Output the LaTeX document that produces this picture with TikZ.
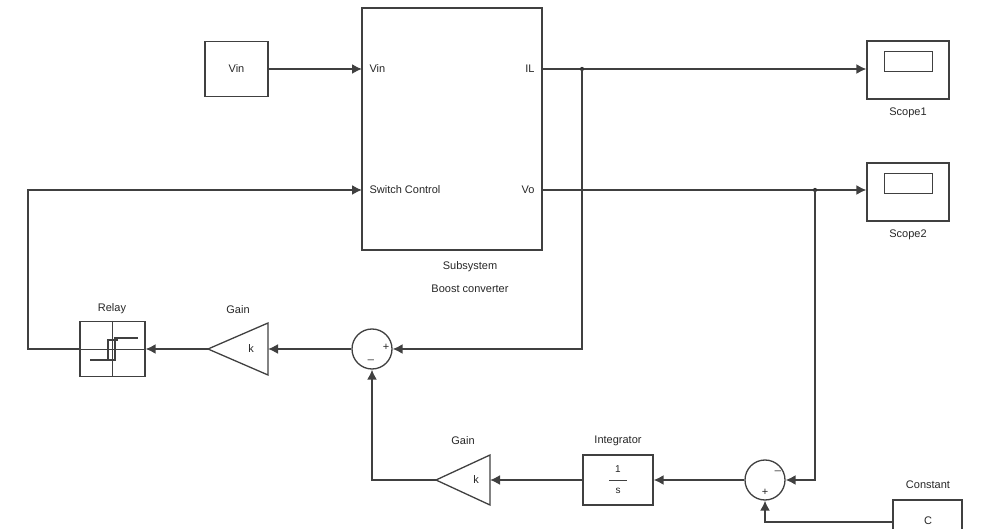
\documentclass[tikz,border=0pt]{standalone}
\usepackage{fontspec}
\setmainfont{Liberation Sans}
\usetikzlibrary{arrows.meta,calc}
\begin{document}
\begin{tikzpicture}[x=1pt,y=-1pt,
  blk/.style={draw=black!75,line width=1.3pt},
  wire/.style={draw=black!75,line width=1.6pt},
  arr/.style={wire,-{Latex[length=10pt,width=10pt]}},
  lbl/.style={font=\fontsize{11}{12}\selectfont,text=black!85},
  dot/.style={circle,fill=black!80,inner sep=1.5pt}]
\useasboundingbox (0,0) rectangle (991,529);
% blocks
\node[blk,minimum width=63pt,minimum height=55pt] (vin) at (236.5,69) {};
\node[lbl] at (vin) {Vin};
\draw[blk] (362,8) rectangle (542,250);
\coordinate (subin1) at (362,69);
\coordinate (subin2) at (362,190);
\coordinate (subo1) at (542,69);
\coordinate (subo2) at (542,190);
\node[lbl,anchor=west] at (366,69) {Vin};
\node[lbl,anchor=east] at (538,69) {IL};
\node[lbl,anchor=west] at (366,190) {Switch Control};
\node[lbl,anchor=east] at (538,190) {Vo};
\node[lbl] at (470,267) {Subsystem};
\node[lbl] at (470,289) {Boost converter};
% scopes
\foreach \n/\y/\t in {sc1/70/Scope1,sc2/192/Scope2}{
  \node[blk,minimum width=82pt,minimum height=58pt] (\n) at (908,\y) {};
  \draw[blk,line width=1pt] ($(\n.center)+(-24,-18)$) rectangle ($(\n.center)+(24,2)$);
  \node[lbl] at ($(\n.south)+(0,13)$) {\t};
}
% sums
\node[blk,circle,minimum size=40pt,inner sep=0] (s1) at (372,349) {};
\node[lbl] at (386,347) {+};
\node[lbl] at (371,360) {\_};
\node[blk,circle,minimum size=40pt,inner sep=0] (s2) at (765,480) {};
\node[lbl] at (778,471) {\_};
\node[lbl] at (765,492) {+};
% gains
\draw[blk] (268,323) -- (268,375) -- (208,349) -- cycle;
\coordinate (g1in) at (268,349); \coordinate (g1out) at (208,349);
\node[lbl] at (251,349) {k};
\node[lbl] at (238,310) {Gain};
\draw[blk] (490,455) -- (490,505) -- (436,480) -- cycle;
\coordinate (g2in) at (490,480); \coordinate (g2out) at (436,480);
\node[lbl] at (476,480) {k};
\node[lbl] at (463,441) {Gain};
% relay
\node[blk,minimum width=65pt,minimum height=55pt] (rel) at (112.5,349) {};
\draw[black!75,line width=0.9pt] (rel.north) -- (rel.south) (rel.west) -- (rel.east);
\draw[black!75,line width=1.1pt] (90,360) -- (115,360) -- (115,338) -- (138,338);
\draw[black!75,line width=1.1pt] (108,360) -- (108,340) -- (118,340);
\node[lbl] at (112,309) {Relay};
% integrator
\node[blk,minimum width=70pt,minimum height=50pt] (int) at (618,480) {};
\node[lbl,font=\fontsize{10}{10}\selectfont] at (618,469) {1};
\draw[black!75,line width=0.9pt] (609,480) -- (627,480);
\node[lbl,font=\fontsize{10}{10}\selectfont] at (618,491) {s};
\node[lbl] at (618,441) {Integrator};
% constant
\draw[blk] (893,529) -- (893,500) -- (962,500) -- (962,529);
\coordinate (cst) at (893,522);
\node[lbl] at (928,521) {C};
\node[lbl] at (928,485) {Constant};
% wires
\draw[arr] (vin.east) -- (subin1);
\draw[arr] (subo1) -- (sc1.west |- subo1);
\draw[arr] (subo2) -- (sc2.west |- subo2);
\node[dot] (d1) at (582,69) {};
\node[dot] (d2) at (815,190) {};
\draw[arr] (d1.center) -- (582,349) -- (s1.east);
\draw[arr] (s1.west) -- (g1in);
\draw[arr] (g1out) -- (rel.east);
\draw[arr] (rel.west) -- (28,349) -- (28,190) -- (subin2);
\draw[arr] (d2.center) -- (815,480) -- (s2.east);
\draw[arr] (s2.west) -- (int.east);
\draw[arr] (int.west) -- (g2in);
\draw[arr] (g2out) -- (372,480) -- (s1.south);
\draw[arr] (cst) -- (765,522) -- (s2.south);
\end{tikzpicture}
\end{document}
